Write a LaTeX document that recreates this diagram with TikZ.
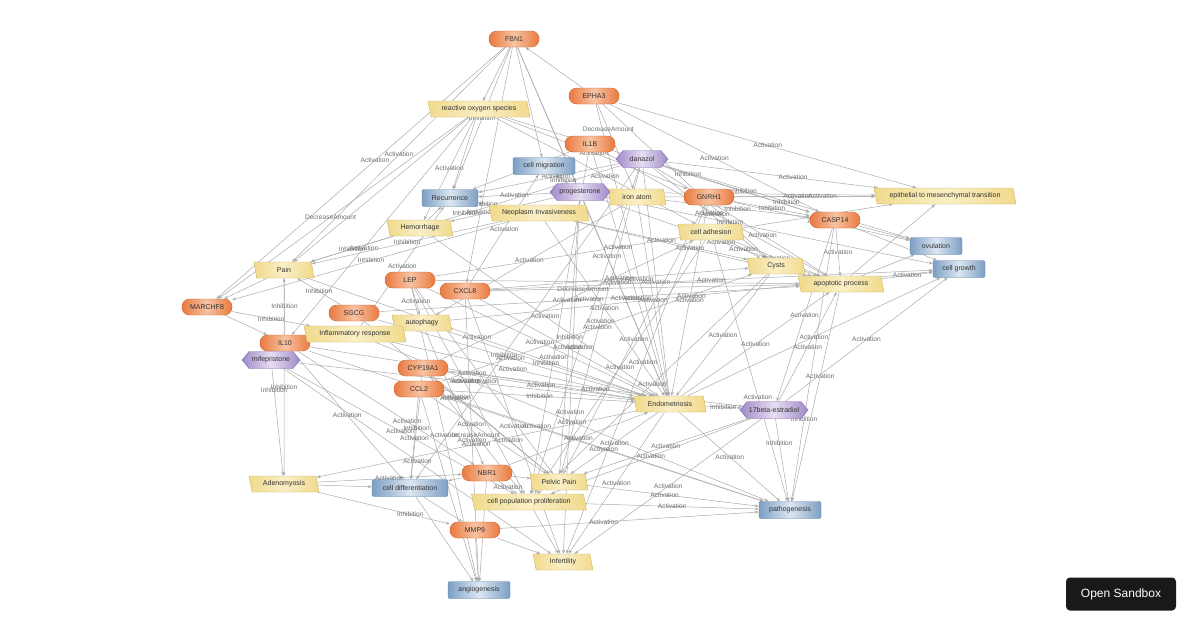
\documentclass[tikz,border=0pt]{standalone}
\usepackage{fontspec}
\setmainfont{Liberation Sans}
\usetikzlibrary{shapes.geometric,shapes.symbols,arrows.meta,backgrounds}

\definecolor{geneD}{HTML}{E9793F}
\definecolor{geneL}{HTML}{F7C3A2}
\definecolor{geneB}{HTML}{D0652E}
\definecolor{phenD}{HTML}{F1DA8C}
\definecolor{phenL}{HTML}{FAEFC6}
\definecolor{phenB}{HTML}{CDB468}
\definecolor{procD}{HTML}{7C9FC4}
\definecolor{procL}{HTML}{DCE6F1}
\definecolor{procB}{HTML}{5E82A9}
\definecolor{drugD}{HTML}{A08AC9}
\definecolor{drugL}{HTML}{E6DDF2}
\definecolor{drugB}{HTML}{8069AE}
\definecolor{edgeC}{HTML}{ABABAB}
\definecolor{labC}{HTML}{6E6E6E}
\definecolor{txtC}{HTML}{333333}

\tikzset{
  base/.style={font=\fontsize{7}{8}\selectfont, text=txtC, inner sep=1pt},
  gene/.style={base, rectangle, rounded corners=7.5pt, draw=geneB, line width=0.4pt,
    left color=geneD, right color=geneD, middle color=geneL,
    minimum width=50pt, minimum height=16pt},
  phen/.style={base, trapezium, trapezium left angle=110, trapezium right angle=70,
    trapezium stretches body, draw=phenB, line width=0.4pt,
    left color=phenD, right color=phenD, middle color=phenL, minimum height=16pt},
  proc/.style={base, rectangle, rounded corners=2pt, draw=procB, line width=0.4pt,
    left color=procD, right color=procD, middle color=procL, minimum height=17pt},
  drug/.style={base, signal, signal to=east and west, signal pointer angle=100,
    draw=drugB, line width=0.4pt,
    left color=drugD, right color=drugD, middle color=drugL, minimum height=17pt},
  edge/.style={draw=edgeC, line width=0.5pt, -{Stealth[length=4pt,width=3pt]}},
  elab/.style={font=\fontsize{6.6}{7}\selectfont, text=labC, inner sep=0pt}
}

\begin{document}
\begin{tikzpicture}[x=1pt, y=-1pt]
\useasboundingbox (0,0) rectangle (1200,630);

% genes
\node[gene] (fbn) at (514,39) {FBN1};
\node[gene] (epha) at (594,96) {EPHA3};
\node[gene] (ilb) at (590,144) {IL1B};
\node[gene] (gnrh) at (709,197) {GNRH1};
\node[gene] (casp) at (835,220) {CASP14};
\node[gene] (lep) at (410,280) {LEP};
\node[gene] (cxcl) at (465,291) {CXCL8};
\node[gene] (march) at (207,307) {MARCHF8};
\node[gene] (sgcg) at (354,313) {SGCG};
\node[gene] (ilten) at (285,343) {IL10};
\node[gene] (cyp) at (423,368) {CYP19A1};
\node[gene] (ccl) at (419,389) {CCL2};
\node[gene] (nbr) at (487,473) {NBR1};
\node[gene] (mmp) at (475,530) {MMP9};

% phenotypes
\node[phen, minimum width=102pt] (ros) at (479,109) {reactive oxygen species};
\node[phen, minimum width=100pt] (neo) at (539,213) {Neoplasm Invasiveness};
\node[phen, minimum width=66pt] (hem) at (420,228) {Hemorrhage};
\node[phen, minimum width=58pt] (iron) at (637,197) {iron atom};
\node[phen, minimum width=66pt] (adh) at (711,232) {cell adhesion};
\node[phen, minimum width=60pt] (pain) at (284,270) {Pain};
\node[phen, minimum width=58pt] (cysts) at (776,266) {Cysts};
\node[phen, minimum width=86pt] (apop) at (841,284) {apoptotic process};
\node[phen, minimum width=60pt] (auto) at (422,323) {autophagy};
\node[phen, minimum width=102pt] (infl) at (355,334) {Inflammatory response};
\node[phen, minimum width=142pt] (emt) at (945,196) {epithelial to mesenchymal transition};
\node[phen, minimum width=72pt] (endo) at (670,404) {Endometriosis};
\node[phen, minimum width=70pt] (adeno) at (284,484) {Adenomyosis};
\node[phen, minimum width=58pt] (pelvic) at (559,482) {Pelvic Pain};
\node[phen, minimum width=115pt] (prolif) at (529,502) {cell population proliferation};
\node[phen, minimum width=60pt] (infert) at (563,562) {Infertility};

% processes
\node[proc, minimum width=62pt] (mig) at (544,166) {cell migration};
\node[proc, minimum width=56pt] (recur) at (450,198) {Recurrence};
\node[proc, minimum width=52pt] (ovul) at (936,246) {ovulation};
\node[proc, minimum width=52pt] (growth) at (959,269) {cell growth};
\node[proc, minimum width=76pt] (diff) at (410,488) {cell differentiation};
\node[proc, minimum width=62pt] (patho) at (790,510) {pathogenesis};
\node[proc, minimum width=62pt] (angio) at (479,590) {angiogenesis};

% drugs
\node[drug, minimum width=52pt] (dana) at (642,159) {danazol};
\node[drug, minimum width=60pt] (prog) at (580,192) {progesterone};
\node[drug, minimum width=58pt] (mife) at (271,360) {mifepristone};
\node[drug, minimum width=68pt] (estr) at (774,410) {17beta-estradiol};

% button
\node[rectangle, rounded corners=4pt, fill=black!90, text=white, minimum width=110pt,
  minimum height=33pt, font=\fontsize{12}{14}\selectfont] (sandbox) at (1121,594) {Open Sandbox};

\begin{scope}[on background layer]
\fill[white] (0,0) rectangle (1200,630);
\foreach \s/\t/\l/\p in {
  fbn/ros/{}/0.5, fbn/pain/Activation/0.5, fbn/recur/Inhibition/0.5, fbn/march/Activation/0.45,
  fbn/mig/{}/0.5, fbn/endo/Activation/0.6, fbn/prog/{}/0.5, epha/fbn/{}/0.5, fbn/cxcl/Activation/0.7,
  epha/iron/DecreaseAmount/0.3, epha/casp/Activation/0.5, epha/emt/Activation/0.5,
  epha/cysts/{}/0.5, epha/endo/Activation/0.6,
  ros/hem/Activation/0.5, ros/march/DecreaseAmount/0.55, ros/ilten/Activation/0.6, ros/recur/{}/0.5,
  ros/casp/Inhibition/0.6, ros/gnrh/Activation/0.5, ros/adh/Activation/0.55, ros/pain/{}/0.5,
  ilb/recur/IncreaseAmount/0.25, ilb/endo/Activation/0.6, ilb/apop/Activation/0.5, ilb/prolif/Activation/0.6,
  prog/mig/Inhibition/0.4,
  dana/emt/Activation/0.6, dana/casp/Inhibition/0.55, dana/apop/Activation/0.62, dana/endo/Activation/0.5,
  dana/pain/Inhibition/0.5, dana/recur/Activation/0.45, dana/cysts/Activation/0.5, dana/pelvic/Activation/0.5,
  dana/ovul/Inhibition/0.5, dana/prolif/Activation/0.55, dana/diff/Inhibition/0.6,
  prog/recur/Activation/0.5, prog/endo/Activation/0.5, prog/hem/Inhibition/0.5, prog/infert/Activation/0.6,
  prog/pelvic/Inhibition/0.5, prog/growth/Inhibition/0.38, prog/apop/Activation/0.55, prog/emt/Activation/0.38,
  iron/emt/Activation/0.75, iron/casp/Inhibition/0.5, iron/endo/Activation/0.5, iron/auto/Activation/0.5,
  gnrh/casp/Inhibition/0.5, gnrh/ovul/Activation/0.5, gnrh/emt/Activation/0.45, gnrh/endo/Activation/0.5,
  gnrh/pelvic/Activation/0.5, gnrh/infert/Activation/0.45,
  casp/ovul/{}/0.5, casp/growth/{}/0.5, casp/apop/Activation/0.5, casp/patho/Inhibition/0.7, casp/estr/Activation/0.5,
  neo/recur/Inhibition/0.5, neo/cysts/Activation/0.5, neo/apop/Activation/0.5, neo/pain/Inhibition/0.5,
  neo/march/Inhibition/0.5, neo/endo/Activation/0.5,
  hem/pain/Inhibition/0.5, hem/recur/{}/0.5, hem/endo/Activation/0.5,
  adh/cysts/Activation/0.5, adh/apop/Activation/0.5, adh/patho/Activation/0.6, adh/prolif/Activation/0.5,
  pain/march/{}/0.5, pain/adeno/Inhibition/0.55, pain/endo/Activation/0.5,
  cysts/apop/{}/0.5, cysts/endo/Activation/0.5, cysts/prolif/Activation/0.5,
  apop/emt/{}/0.5, apop/ovul/{}/0.5, apop/patho/Activation/0.4, apop/growth/Activation/0.5,
  lep/endo/Activation/0.5, lep/auto/Activation/0.5, lep/pelvic/Activation/0.5, lep/prolif/Activation/0.45,
  lep/angio/Activation/0.5, lep/apop/Activation/0.5, lep/emt/Activation/0.4,
  cxcl/endo/Activation/0.5, cxcl/angio/Activation/0.5, cxcl/mig/Activation/0.5, cxcl/apop/DecreaseAmount/0.3,
  cxcl/infert/Activation/0.5, cxcl/cysts/Activation/0.5, cxcl/growth/Activation/0.5,
  march/ilten/{}/0.5, march/infl/Inhibition/0.5,
  sgcg/endo/Activation/0.5, sgcg/pain/Inhibition/0.5, sgcg/pelvic/Activation/0.5, sgcg/apop/Activation/0.5,
  ilten/endo/Activation/0.5, ilten/diff/Activation/0.5, ilten/pain/Inhibition/0.5, ilten/patho/Activation/0.5,
  ilten/nbr/Activation/0.62,
  mife/adeno/Inhibition/0.2, mife/endo/Activation/0.5, mife/infert/Activation/0.5, mife/prolif/Activation/0.5,
  infl/endo/Activation/0.5, infl/patho/Activation/0.5, infl/recur/Activation/0.5,
  auto/endo/Inhibition/0.5, auto/nbr/Activation/0.5, auto/growth/Activation/0.5,
  cyp/endo/Activation/0.5, cyp/estr/Activation/0.5, cyp/prolif/IncreaseAmount/0.5, cyp/diff/Inhibition/0.5,
  cyp/pelvic/Activation/0.65, cyp/adh/Activation/0.5,
  ccl/endo/Inhibition/0.5, ccl/angio/{}/0.5, ccl/diff/Activation/0.5, ccl/pelvic/Activation/0.35,
  ccl/patho/Activation/0.5, ccl/cysts/Activation/0.5,
  endo/patho/Activation/0.5, endo/estr/Inhibition/0.5, endo/infert/Activation/0.5, endo/pelvic/Activation/0.5,
  endo/adeno/Activation/0.5, endo/apop/Activation/0.5, endo/growth/Activation/0.5,
  estr/apop/Activation/0.5, estr/patho/Inhibition/0.3, estr/growth/Activation/0.5, estr/prolif/Activation/0.5,
  estr/pelvic/Activation/0.5, estr/infert/Activation/0.5,
  adeno/diff/{}/0.5, adeno/mmp/Inhibition/0.7, adeno/nbr/Activation/0.5,
  nbr/diff/{}/0.5, nbr/pelvic/{}/0.5, nbr/prolif/Activation/0.5, nbr/angio/{}/0.5, nbr/endo/Activation/0.5,
  mmp/infert/{}/0.5, mmp/patho/Activation/0.4, mmp/angio/{}/0.5,
  prolif/infert/{}/0.5, prolif/patho/Activation/0.5, pelvic/patho/Activation/0.45,
  diff/angio/{}/0.5, diff/mmp/{}/0.5}
  \draw[edge] (\s) -- (\t) node[elab, pos=\p] {\l};
\end{scope}
\end{tikzpicture}
\end{document}
